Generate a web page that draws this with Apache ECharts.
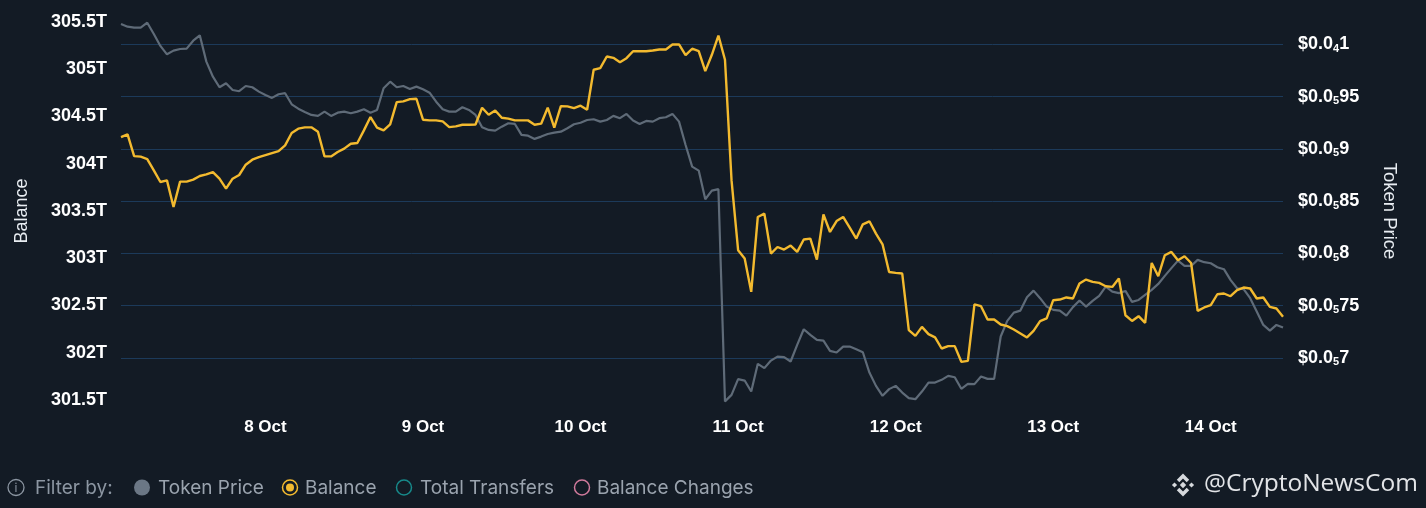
<!DOCTYPE html>
<html><head><meta charset="utf-8">
<script src="https://cdn.jsdelivr.net/npm/echarts@6.0.0/dist/echarts.min.js"></script>
<style>html,body{margin:0;padding:0;background:#131b25;}#c{width:1426px;height:508px;}</style>
</head><body><div id="c"></div>
<script>
// Hourly samples, 7 Oct 02:00 -> 14 Oct 11:00
const startDay = 7, startHour = 2, pointCount = 178;

// Token price in units of 1e-5 USD
const tokenPriceE5 = [
1.0194,1.0168,1.0159,1.0159,1.0206,1.0098,0.9984,0.9904,0.9939,0.9955,
0.9958,1.0034,1.0086,0.9834,0.9690,0.9589,0.9627,0.9563,0.9551,0.9601,
0.9589,0.9547,0.9515,0.9487,0.9522,0.9532,0.9426,0.9384,0.9353,0.9324,
0.9315,0.9356,0.9315,0.9346,0.9356,0.9340,0.9356,0.9379,0.9346,0.9372,
0.9579,0.9642,0.9589,0.9601,0.9573,0.9595,0.9570,0.9537,0.9451,0.9379,
0.9356,0.9356,0.9398,0.9372,0.9324,0.9207,0.9181,0.9174,0.9212,0.9245,
0.9238,0.9133,0.9126,0.9095,0.9117,0.9142,0.9155,0.9164,0.9197,0.9235,
0.9250,0.9276,0.9283,0.9260,0.9276,0.9315,0.9293,0.9334,0.9270,0.9238,
0.9267,0.9260,0.9293,0.9302,0.9334,0.9260,0.9037,0.8830,0.8792,0.8518,
0.8600,0.8614,0.6585,0.6647,0.6797,0.6784,0.6679,0.6944,0.6903,0.6975,
0.7013,0.7008,0.6966,0.7125,0.7275,0.7221,0.7173,0.7166,0.7068,0.7052,
0.7109,0.7109,0.7084,0.7055,0.6860,0.6733,0.6638,0.6702,0.6733,0.6669,
0.6616,0.6606,0.6679,0.6765,0.6765,0.6791,0.6829,0.6816,0.6705,0.6752,
0.6750,0.6822,0.6800,0.6800,0.7205,0.7355,0.7434,0.7453,0.7581,0.7644,
0.7572,0.7491,0.7460,0.7453,0.7405,0.7486,0.7549,0.7491,0.7546,0.7594,
0.7683,0.7635,0.7620,0.7641,0.7536,0.7555,0.7603,0.7651,0.7708,0.7785,
0.7859,0.7931,0.7880,0.7880,0.7938,0.7916,0.7906,0.7868,0.7849,0.7747,
0.7667,0.7658,0.7572,0.7444,0.7316,0.7262,0.7316,0.7291
];

// Balance in trillions
const balanceT = [
304.282,304.311,304.081,304.075,304.050,303.930,303.807,303.824,303.542,303.811,
303.811,303.832,303.870,303.888,303.912,303.842,303.737,303.842,303.881,303.990,
304.043,304.071,304.092,304.113,304.134,304.195,304.325,304.371,304.385,304.385,
304.339,304.078,304.078,304.124,304.160,304.212,304.219,304.353,304.494,304.382,
304.353,304.416,304.652,304.660,304.684,304.688,304.466,304.459,304.459,304.448,
304.388,304.395,304.413,304.413,304.416,304.593,304.519,304.564,304.487,304.477,
304.459,304.459,304.459,304.413,304.424,304.593,304.382,304.610,304.607,304.589,
304.614,304.572,304.995,305.012,305.135,305.121,305.075,305.117,305.191,305.191,
305.191,305.199,305.209,305.209,305.262,305.262,305.149,305.217,305.191,304.980,
305.153,305.357,305.100,303.824,303.085,302.997,302.644,303.437,303.472,303.050,
303.119,303.092,303.134,303.067,303.198,303.208,302.986,303.465,303.278,303.394,
303.437,303.324,303.208,303.359,303.391,303.261,303.148,302.855,302.845,302.838,
302.239,302.179,302.274,302.197,302.162,302.045,302.070,302.070,301.904,301.914,
302.511,302.493,302.352,302.352,302.299,302.281,302.246,302.204,302.162,302.232,
302.334,302.363,302.556,302.563,302.585,302.574,302.733,302.775,302.750,302.739,
302.704,302.697,302.785,302.397,302.337,302.387,302.316,302.950,302.810,303.032,
303.067,302.979,303.021,302.950,302.443,302.479,302.503,302.619,302.627,302.598,
302.662,302.690,302.680,302.574,302.585,302.485,302.468,302.380
];

const balanceTicks = {min: 301.5, max: 305.5, step: 0.5};
const priceAxisRangeE5 = {min: 0.6598, max: 1.0213};

const legendItems = ['Token Price','Balance','Total Transfers','Balance Changes'];

// build hourly categories
const categories = [];
for (let k = 0; k < pointCount; k++) {
  const h = startHour + k;
  const d = startDay + Math.floor(h / 24);
  const hh = h % 24;
  categories.push(d + ' Oct ' + (hh < 10 ? '0' : '') + hh + ':00');
}

function fmtPrice(vE5) {
  const v = vE5 * 1e-5;
  const e = Math.floor(Math.log10(v) + 1e-9);
  const zeros = -e - 1;
  let mant = Number((v / Math.pow(10, e)).toPrecision(6)).toString().replace('.', '');
  return '$0.0{s|' + zeros + '}' + mant;
}

const AX = 'Liberation Sans, Arial, sans-serif';
const LG = 'Inter, sans-serif';
const chart = echarts.init(document.getElementById('c'), null, {renderer: 'canvas'});
const option = {
  backgroundColor: '#131b25',
  animation: false,
  grid: {left: 121, right: 143, top: 22, bottom: 108},
  xAxis: {
    type: 'category', data: categories, boundaryGap: false,
    axisLine: {show: false}, axisTick: {show: false}, splitLine: {show: false},
    axisLabel: {
      interval: (idx, val) => / 00:00$/.test(val),
      formatter: (val) => val.replace(/ \d\d:\d\d$/, ''),
      color: '#ffffff', fontWeight: 'bold', fontSize: 17, fontFamily: AX, margin: 19
    }
  },
  yAxis: [
    {
      type: 'value', position: 'left', min: balanceTicks.min, max: balanceTicks.max, interval: balanceTicks.step,
      name: 'Balance', nameLocation: 'middle', nameGap: 90, nameRotate: 90,
      nameTextStyle: {color: '#e8edf2', fontSize: 18, fontFamily: AX},
      axisLine: {show: false}, axisTick: {show: false}, splitLine: {show: false},
      axisLabel: {formatter: (v) => v + 'T', color: '#ffffff', fontWeight: 'bold', fontSize: 18, fontFamily: AX, margin: 14}
    },
    {
      type: 'value', position: 'right', min: priceAxisRangeE5.min, max: priceAxisRangeE5.max, splitNumber: 7,
      name: 'Token Price', nameLocation: 'middle', nameGap: 97, nameRotate: -90,
      nameTextStyle: {color: '#e8edf2', fontSize: 18.5, fontFamily: AX},
      axisLine: {show: false}, axisTick: {show: false},
      splitLine: {show: true, showMinLine: false, showMaxLine: false, lineStyle: {color: '#1c3a5a', width: 1}},
      axisLabel: {
        showMinLabel: false, showMaxLabel: false,
        formatter: fmtPrice, color: '#ffffff', fontWeight: 'bold', fontSize: 18, fontFamily: AX, margin: 15, lineHeight: 20,
        rich: {s: {fontSize: 11, fontWeight: 'bold', color: '#ffffff', fontFamily: AX, lineHeight: 12, verticalAlign: 'bottom'}}
      }
    }
  ],
  series: [
    {name: 'Token Price', type: 'line', yAxisIndex: 1, data: tokenPriceE5, showSymbol: false, clip: false,
     lineStyle: {color: '#5f6b78', width: 2.2}, itemStyle: {color: '#5f6b78'}, z: 2},
    {name: 'Balance', type: 'line', yAxisIndex: 0, data: balanceT, showSymbol: false, clip: false,
     lineStyle: {color: '#f3ba2f', width: 2.4}, itemStyle: {color: '#f3ba2f'}, z: 3}
  ],
  graphic: [
    {type: 'circle', shape: {cx: 16, cy: 487.5, r: 8}, style: {fill: 'none', stroke: '#8c96a2', lineWidth: 1.3}},
    {type: 'text', style: {x: 16, y: 488, text: 'i', fill: '#8c96a2', fontSize: 12, fontFamily: LG, align: 'center', verticalAlign: 'middle'}},
    {type: 'text', style: {x: 35, y: 488, text: 'Filter by:', fill: '#8c96a2', fontSize: 19, fontFamily: LG, verticalAlign: 'middle'}},
    {type: 'circle', shape: {cx: 142, cy: 487.5, r: 8}, style: {fill: '#6b7785'}},
    {type: 'text', style: {x: 158, y: 488, text: legendItems[0], fill: '#9aa3ae', fontSize: 19, fontFamily: LG, verticalAlign: 'middle'}},
    {type: 'circle', shape: {cx: 290, cy: 487.5, r: 7.5}, style: {fill: 'none', stroke: '#f3ba2f', lineWidth: 1.5}},
    {type: 'circle', shape: {cx: 290, cy: 487.5, r: 4}, style: {fill: '#f3ba2f'}},
    {type: 'text', style: {x: 305, y: 488, text: legendItems[1], fill: '#9aa3ae', fontSize: 19, fontFamily: LG, verticalAlign: 'middle'}},
    {type: 'circle', shape: {cx: 404, cy: 487.5, r: 7.5}, style: {fill: 'none', stroke: '#17898a', lineWidth: 1.5}},
    {type: 'text', style: {x: 420, y: 488, text: legendItems[2], fill: '#9aa3ae', fontSize: 19, fontFamily: LG, verticalAlign: 'middle'}},
    {type: 'circle', shape: {cx: 582, cy: 487.5, r: 7.5}, style: {fill: 'none', stroke: '#d07a9c', lineWidth: 1.5}},
    {type: 'text', style: {x: 597, y: 488, text: legendItems[3], fill: '#9aa3ae', fontSize: 19, fontFamily: LG, verticalAlign: 'middle'}},
    // watermark logo
    {type: 'group', x: 1183, y: 485, children: [
      {type: 'polygon', shape: {points: [[0,-3.2],[3.2,0],[0,3.2],[-3.2,0]]}, style: {fill: '#d6d9dd'}},
      {type: 'polygon', shape: {points: [[-8.5,-2.6],[-5.9,0],[-8.5,2.6],[-11.1,0]]}, style: {fill: '#d6d9dd'}},
      {type: 'polygon', shape: {points: [[8.5,-2.6],[11.1,0],[8.5,2.6],[5.9,0]]}, style: {fill: '#d6d9dd'}},
      {type: 'polygon', shape: {points: [[0,-11.5],[6.2,-5.3],[3.7,-2.8],[0,-6.5],[-3.7,-2.8],[-6.2,-5.3]]}, style: {fill: '#d6d9dd'}},
      {type: 'polygon', shape: {points: [[0,11.5],[6.2,5.3],[3.7,2.8],[0,6.5],[-3.7,2.8],[-6.2,5.3]]}, style: {fill: '#d6d9dd'}}
    ]},
    {type: 'text', style: {x: 1204, y: 484, text: '@CryptoNewsCom', fill: '#e2e4e7', fontSize: 24.5, fontFamily: 'Open Sans', verticalAlign: 'middle'}}
  ]
};
chart.setOption(option);
</script>
</body></html>
